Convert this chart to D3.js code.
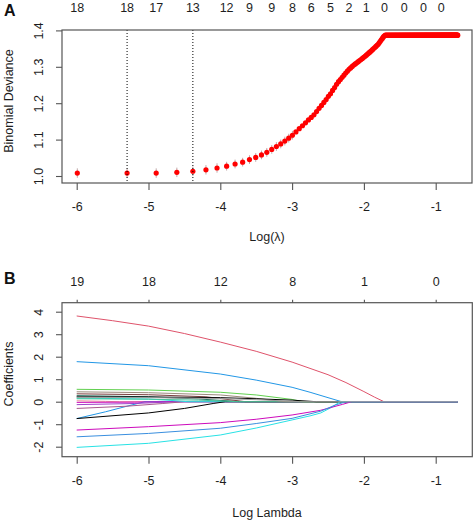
<!DOCTYPE html>
<html><head><meta charset="utf-8">
<script src="https://cdn.jsdelivr.net/npm/d3@7"></script>
<style>html,body{margin:0;padding:0;background:#fff;}svg{display:block;font-family:"Liberation Sans",Arial,Helvetica,sans-serif;}</style>
</head><body><svg id="c" width="474" height="521"></svg>
<script>
// ---------- DATA ----------
// lambda grid: seq(0.0025, 0.5, by = 0.0025)  (200 values)
const lambda = d3.range(1, 201).map(k => +(k * 0.0025).toFixed(4));

// cross-validated binomial deviance at each lambda
const cvm = [
  1.008,1.008,1.008,1.010,1.013,1.017,1.022,1.027,1.033,1.038,
  1.045,1.051,1.058,1.065,1.073,1.081,1.088,1.096,1.104,1.112,
  1.121,1.130,1.138,1.146,1.154,1.161,1.168,1.177,1.186,1.194,
  1.202,1.210,1.219,1.226,1.235,1.243,1.252,1.259,1.265,1.271,
  1.277,1.283,1.288,1.293,1.297,1.301,1.305,1.308,1.311,1.314,
  1.317,1.320,1.323,1.326,1.329,1.332,1.335,1.338,1.341,1.344,
  1.347,1.350,1.353,1.356,1.359,1.362,1.366,1.370,1.374,1.378,
  1.382,1.385,
  1.387,1.387,1.387,1.387,1.387,1.387,1.387,1.387,
  1.387,1.387,1.387,1.387,1.387,1.387,1.387,1.387,1.387,1.387,
  1.387,1.387,1.387,1.387,1.387,1.387,1.387,1.387,1.387,1.387,
  1.387,1.387,1.387,1.387,1.387,1.387,1.387,1.387,1.387,1.387,
  1.387,1.387,1.387,1.387,1.387,1.387,1.387,1.387,1.387,1.387,
  1.387,1.387,1.387,1.387,1.387,1.387,1.387,1.387,1.387,1.387,
  1.387,1.387,1.387,1.387,1.387,1.387,1.387,1.387,1.387,1.387,
  1.387,1.387,1.387,1.387,1.387,1.387,1.387,1.387,1.387,1.387,
  1.387,1.387,1.387,1.387,1.387,1.387,1.387,1.387,1.387,1.387,
  1.387,1.387,1.387,1.387,1.387,1.387,1.387,1.387,1.387,1.387,
  1.387,1.387,1.387,1.387,1.387,1.387,1.387,1.387,1.387,1.387,
  1.387,1.387,1.387,1.387,1.387,1.387,1.387,1.387,1.387,1.387,
  1.387,1.387,1.387,1.387,1.387,1.387,1.387,1.387,1.387,1.387
];
// standard errors (visible error bars on the sparse left-hand points)
const cvsd = [0.013,0.013,0.013,0.013,0.013,0.013,0.013,0.012,0.012,0.012,
              0.012,0.012,0.012,0.012,0.012,0.012,0.012,0.012,0.012,0.012];

// index (1-based) of lambda.min and lambda.1se
const lambdaMinK = 2, lambda1seK = 5;

// number of non-zero coefficients shown on top of panel A (at lambda index k)
const nzK      = [1, 2, 3, 5, 8,11,15,20,26,34,44,56,72,95,124,159];
const nzLabels = [18,18,17,13,12, 9, 9, 8, 6, 5, 2, 1, 0, 0, 0, 0];

// axis ticks
const xTicks = [-6,-5,-4,-3,-2,-1];
const yTicksA = [1.0,1.1,1.2,1.3,1.4];
const yTicksB = [-2,-1,0,1,2,3,4];
const dfTopB = [19,18,12,8,1,0];

// coefficient paths: [log(lambda), coefficient]; zero after last point
const pathPink     = [[-6,0.04],[-5.6,0.015],[-5.4,0]];
const pathBlueS    = [[-6,-0.75],[-5.6,-0.45],[-5.3,-0.2],[-5.05,0]];
const pathMagS     = [[-6,-0.03],[-5.2,-0.02],[-4.75,0]];
const pathPurple   = [[-6,-0.13],[-5.2,-0.08],[-4.6,0]];
const pathMauve    = [[-6,-0.30],[-5.3,-0.2],[-4.8,-0.08],[-4.5,0]];
const pathCyanS    = [[-6,0.16],[-5,0.12],[-4.7,0.06],[-4.45,0]];
const pathBlackLow = [[-6,-0.75],[-5,-0.5],[-4.5,-0.3],[-4.1,-0.08],[-3.93,0]];
const pathDkTeal   = [[-6,0.27],[-5,0.22],[-4.3,0.12],[-3.7,0]];
const pathDkRed    = [[-6,0.35],[-5,0.31],[-4.2,0.22],[-3.65,0]];
const pathGrTeal   = [[-6,0.13],[-5,0.11],[-4.3,0.07],[-3.75,0]];
const pathTaupe    = [[-6,0.44],[-5,0.40],[-4,0.3],[-3.5,0.15],[-3.1,0]];
const pathGreen    = [[-6,0.55],[-5,0.52],[-4,0.42],[-3.5,0.3],[-3,0.1],[-2.85,0]];
const pathBlack    = [[-6,0.22],[-5,0.21],[-4,0.18],[-3.5,0.13],[-3,0.07],[-2.66,0]];
const pathRed      = [[-6,3.81],[-5.5,3.6],[-5,3.36],[-4.5,3.03],[-4,2.65],[-3.5,2.24],[-3,1.76],[-2.5,1.2],[-2.25,0.85],[-2,0.45],[-1.85,0.2],[-1.72,0]];
const pathBlue     = [[-6,1.78],[-5,1.6],[-4,1.23],[-3.5,0.96],[-3,0.64],[-2.75,0.42],[-2.5,0.18],[-2.31,0]];
const pathCyan     = [[-6,-2.03],[-5,-1.85],[-4,-1.48],[-3.5,-1.17],[-3,-0.81],[-2.75,-0.63],[-2.6,-0.5],[-2.45,-0.25],[-2.33,0]];
const pathMagenta  = [[-6,-1.26],[-5,-1.11],[-4,-0.93],[-3.5,-0.78],[-3,-0.59],[-2.6,-0.38],[-2.3,-0.12],[-2.17,0]];
const pathBlueLow  = [[-6,-1.56],[-5,-1.41],[-4,-1.18],[-3.5,-0.97],[-3,-0.74],[-2.6,-0.42],[-2.4,-0.15],[-2.25,0]];
const pathGrey     = [[-6,0.2],[-5,0.18],[-4,0.14],[-3.5,0.09],[-3,0.02],[-2.9,0]];

const coefPaths = [pathPink,pathBlueS,pathMagS,pathPurple,pathMauve,pathCyanS,pathBlackLow,pathDkTeal,
  pathDkRed,pathGrTeal,pathTaupe,pathGreen,pathBlack,pathRed,pathBlue,pathCyan,pathMagenta,pathBlueLow,pathGrey];
const coefColors = ["#E8869A","#2297E6","#CD0BBC","#A040C8","#A85A8C","#28E2E5","#000000","#24705F",
  "#7A3F3F","#45C49A","#9A8A7C","#61D04F","#000000","#DF536B","#2297E6","#28E2E5","#CD0BBC","#3A8FDF","#9E9E9E"];

// ---------- DRAW ----------
const svg = d3.select("#c");
svg.append("rect").attr("width",474).attr("height",521).attr("fill","#fff");
const logL = lambda.map(Math.log);
const lastLog = d3.max(logL);
const x = d3.scaleLinear().domain([-6,-1]).range([76.7,435.7]);
const axisCol = "#555", txtCol = "#1e1e1e";

function styleAxis(g){
  g.select(".domain").remove();
  g.selectAll(".tick line").attr("stroke",axisCol).attr("stroke-width",1.1);
  g.selectAll(".tick text").attr("fill",txtCol).attr("font-size","12.5px");
}
function rotLeftLabels(g){
  g.selectAll(".tick text").attr("x",null).attr("dy",null).attr("y",null)
   .attr("text-anchor","middle").attr("dominant-baseline","central")
   .attr("transform","translate(-23,0) rotate(-90)");
}

// ===== Panel A =====
const bA = {l:62, r:472, t:30, b:183};
const yA = d3.scaleLinear().domain([1.0,1.4]).range([176,30.4]);
const gA = svg.append("g");

gA.append("g").attr("transform",`translate(0,${bA.b})`)
  .call(d3.axisBottom(x).tickValues(xTicks).tickSize(7).tickPadding(12).tickFormat(d=>String(d)))
  .call(styleAxis);
gA.append("g").attr("transform",`translate(${bA.l},0)`)
  .call(d3.axisLeft(yA).tickValues(yTicksA).tickSize(6).tickFormat(d3.format(".1f")))
  .call(styleAxis).call(rotLeftLabels);

// top: number of non-zero coefficients
gA.append("g").selectAll("text").data(nzK).join("text")
  .attr("x",k=>x(logL[k-1])).attr("y",8).attr("text-anchor","middle").attr("dominant-baseline","central")
  .attr("font-size","12.5px").attr("fill",txtCol).text((k,i)=>nzLabels[i]);

// error bars
gA.append("g").selectAll("line").data(cvsd).join("line")
  .attr("x1",(s,i)=>x(logL[i])).attr("x2",(s,i)=>x(logL[i]))
  .attr("y1",(s,i)=>yA(cvm[i]-s)).attr("y2",(s,i)=>yA(cvm[i]+s))
  .attr("stroke","#c0a8a8").attr("stroke-width",1);
// points
gA.append("g").selectAll("circle").data(cvm).join("circle")
  .attr("cx",(v,i)=>x(logL[i])).attr("cy",v=>yA(v)).attr("r",2.6).attr("fill","#ff0000");
// lambda.min / lambda.1se
[lambdaMinK, lambda1seK].forEach(k=>{
  gA.append("line").attr("x1",x(logL[k-1])).attr("x2",x(logL[k-1]))
    .attr("y1",bA.t).attr("y2",bA.b).attr("stroke","#000").attr("stroke-width",1).attr("stroke-dasharray","1,2");
});
gA.append("rect").attr("x",bA.l).attr("y",bA.t).attr("width",bA.r-bA.l).attr("height",bA.b-bA.t)
  .attr("fill","none").attr("stroke",axisCol).attr("stroke-width",1.2);

gA.append("text").attr("transform","translate(9,101) rotate(-90)").attr("text-anchor","middle")
  .attr("dominant-baseline","central").attr("font-size","12.5px").attr("fill",txtCol).text("Binomial Deviance");
gA.append("text").attr("x",267).attr("y",237).attr("text-anchor","middle").attr("dominant-baseline","central")
  .attr("font-size","12.5px").attr("fill",txtCol).text("Log(λ)");
svg.append("text").attr("x",4).attr("y",16).attr("font-size","16px").attr("font-weight","bold").attr("fill","#111").text("A");

// ===== Panel B =====
const bB = {l:62, r:472.3, t:302.7, b:456.7};
const yB = d3.scaleLinear().domain([-2,4]).range([446.7,311.7]);
const gB = svg.append("g");

gB.append("g").attr("transform",`translate(0,${bB.b})`)
  .call(d3.axisBottom(x).tickValues(xTicks).tickSize(7).tickPadding(12).tickFormat(d=>String(d)))
  .call(styleAxis);
gB.append("g").attr("transform",`translate(${bB.l},0)`)
  .call(d3.axisLeft(yB).tickValues(yTicksB).tickSize(6).tickFormat(d=>String(d)))
  .call(styleAxis).call(rotLeftLabels);
gB.append("g").attr("transform",`translate(0,${bB.t})`)
  .call(d3.axisTop(x).tickValues(xTicks).tickSize(3).tickPadding(14).tickFormat((d,i)=>String(dfTopB[i])))
  .call(styleAxis);

const line = d3.line().x(d=>x(d[0])).y(d=>yB(d[1]));
gB.append("g").selectAll("path").data(coefPaths).join("path")
  .attr("d",p=>line(p.concat([[lastLog,0]])))
  .attr("fill","none").attr("stroke",(p,i)=>coefColors[i]).attr("stroke-width",1);

gB.append("rect").attr("x",bB.l).attr("y",bB.t).attr("width",bB.r-bB.l).attr("height",bB.b-bB.t)
  .attr("fill","none").attr("stroke",axisCol).attr("stroke-width",1.2);

gB.append("text").attr("transform","translate(9,374) rotate(-90)").attr("text-anchor","middle")
  .attr("dominant-baseline","central").attr("font-size","12.5px").attr("fill",txtCol).text("Coefficients");
gB.append("text").attr("x",267).attr("y",513).attr("text-anchor","middle").attr("dominant-baseline","central")
  .attr("font-size","12.5px").attr("fill",txtCol).text("Log Lambda");
svg.append("text").attr("x",4).attr("y",284).attr("font-size","16px").attr("font-weight","bold").attr("fill","#111").text("B");
</script></body></html>
